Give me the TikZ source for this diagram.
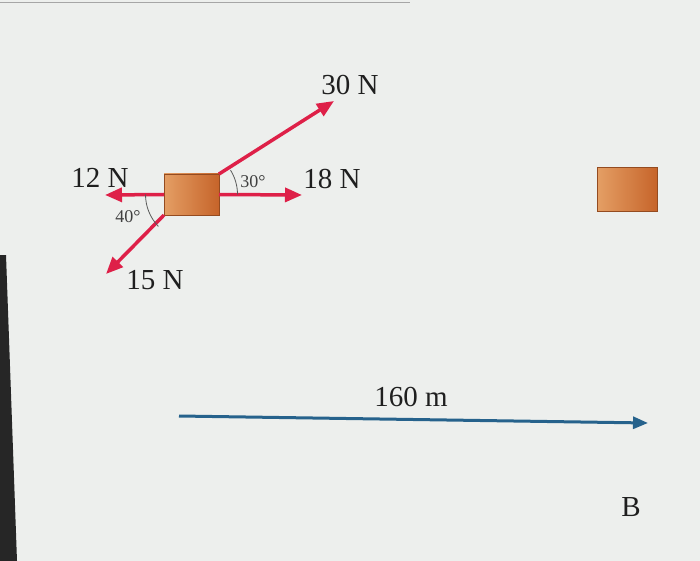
\documentclass[tikz,border=0pt]{standalone}
\usepackage{fontspec}
\setmainfont{Liberation Serif}
\usetikzlibrary{positioning,calc,arrows.meta}
\definecolor{myred}{RGB}{222,32,72}
\definecolor{myblue}{RGB}{38,98,140}
\definecolor{mybrowni}{RGB}{228,158,100}
\definecolor{mybrownii}{RGB}{198,100,42}
\definecolor{mypaper}{RGB}{237,239,237}
\tikzset{
forcepic/.style={
  x=1pt,y=-1pt
    ,inner sep=0pt
    ,outer sep=0pt
}
,crate/.style={draw=mybrownii!75!black,line width=.8pt
  ,left color=mybrowni,right color=mybrownii
  ,minimum width=55pt,minimum height=41pt}
,force/.style={draw=myred,line width=3.5pt
  ,-{Triangle[length=17pt,width=14pt]}}
,dist/.style={draw=myblue,line width=3pt
  ,-{Triangle[length=15pt,width=12pt]}}
,lbl/.style={font=\fontsize{29}{31}\selectfont,text=black!88}
,anglbl/.style={font=\fontsize{18}{20}\selectfont,text=black!75}
,arcline/.style={draw=black!65,line width=.8pt}
}

\begin{document}
\begin{tikzpicture}[forcepic]
  % paper
  \fill[mypaper] (0,0) rectangle (700,561);
  \useasboundingbox (0,0) rectangle (700,561);
  \fill[black!85] (0,255) -- (6,255) -- (17,561) -- (0,561) -- cycle;
  \draw[black!35,line width=1pt] (0,3) -- (410,3);
  % block with forces
  \node[crate] (crate) at (191.5,194.5) {};
  \coordinate (tipl) at (105,195);
  \coordinate (tipr) at (302,195);
  \coordinate (tipu) at (334,101);
  \coordinate (tipd) at (106,274);
  \draw[force] (crate.west) -- (tipl);
  \draw[force] (crate.east) -- (tipr);
  \draw[force] (crate.north east) -- (tipu);
  \draw[force] (crate.south west) -- (tipd);
  \draw[arcline] ($(crate.center)+(46,0)$) arc[start angle=0,end angle=-32,radius=46];
  \draw[arcline] ($(crate.center)+(-46,0)$) arc[start angle=180,end angle=136,radius=46];
  \node[lbl] (lblu) at (350,85) {30 N};
  \node[lbl] (lbll) at (100,178) {12 N};
  \node[lbl] (lblr) at (332,179) {18 N};
  \node[lbl] (lbld) at (155,280) {15 N};
  \node[anglbl] (angu) at (253,182) {30\textdegree};
  \node[anglbl] (angd) at (128,217) {40\textdegree};
  % second block
  \node[crate,minimum width=60pt,minimum height=44pt] (crateb) at (627.5,189.5) {};
  % distance
  \coordinate (dstart) at (179,416);
  \coordinate (dend) at (648,423);
  \draw[dist] (dstart) -- (dend);
  \node[lbl] (lbldist) at (411,397) {160 m};
  \node[lbl] (lblb) at (631,507) {B};
\end{tikzpicture}
\end{document}
